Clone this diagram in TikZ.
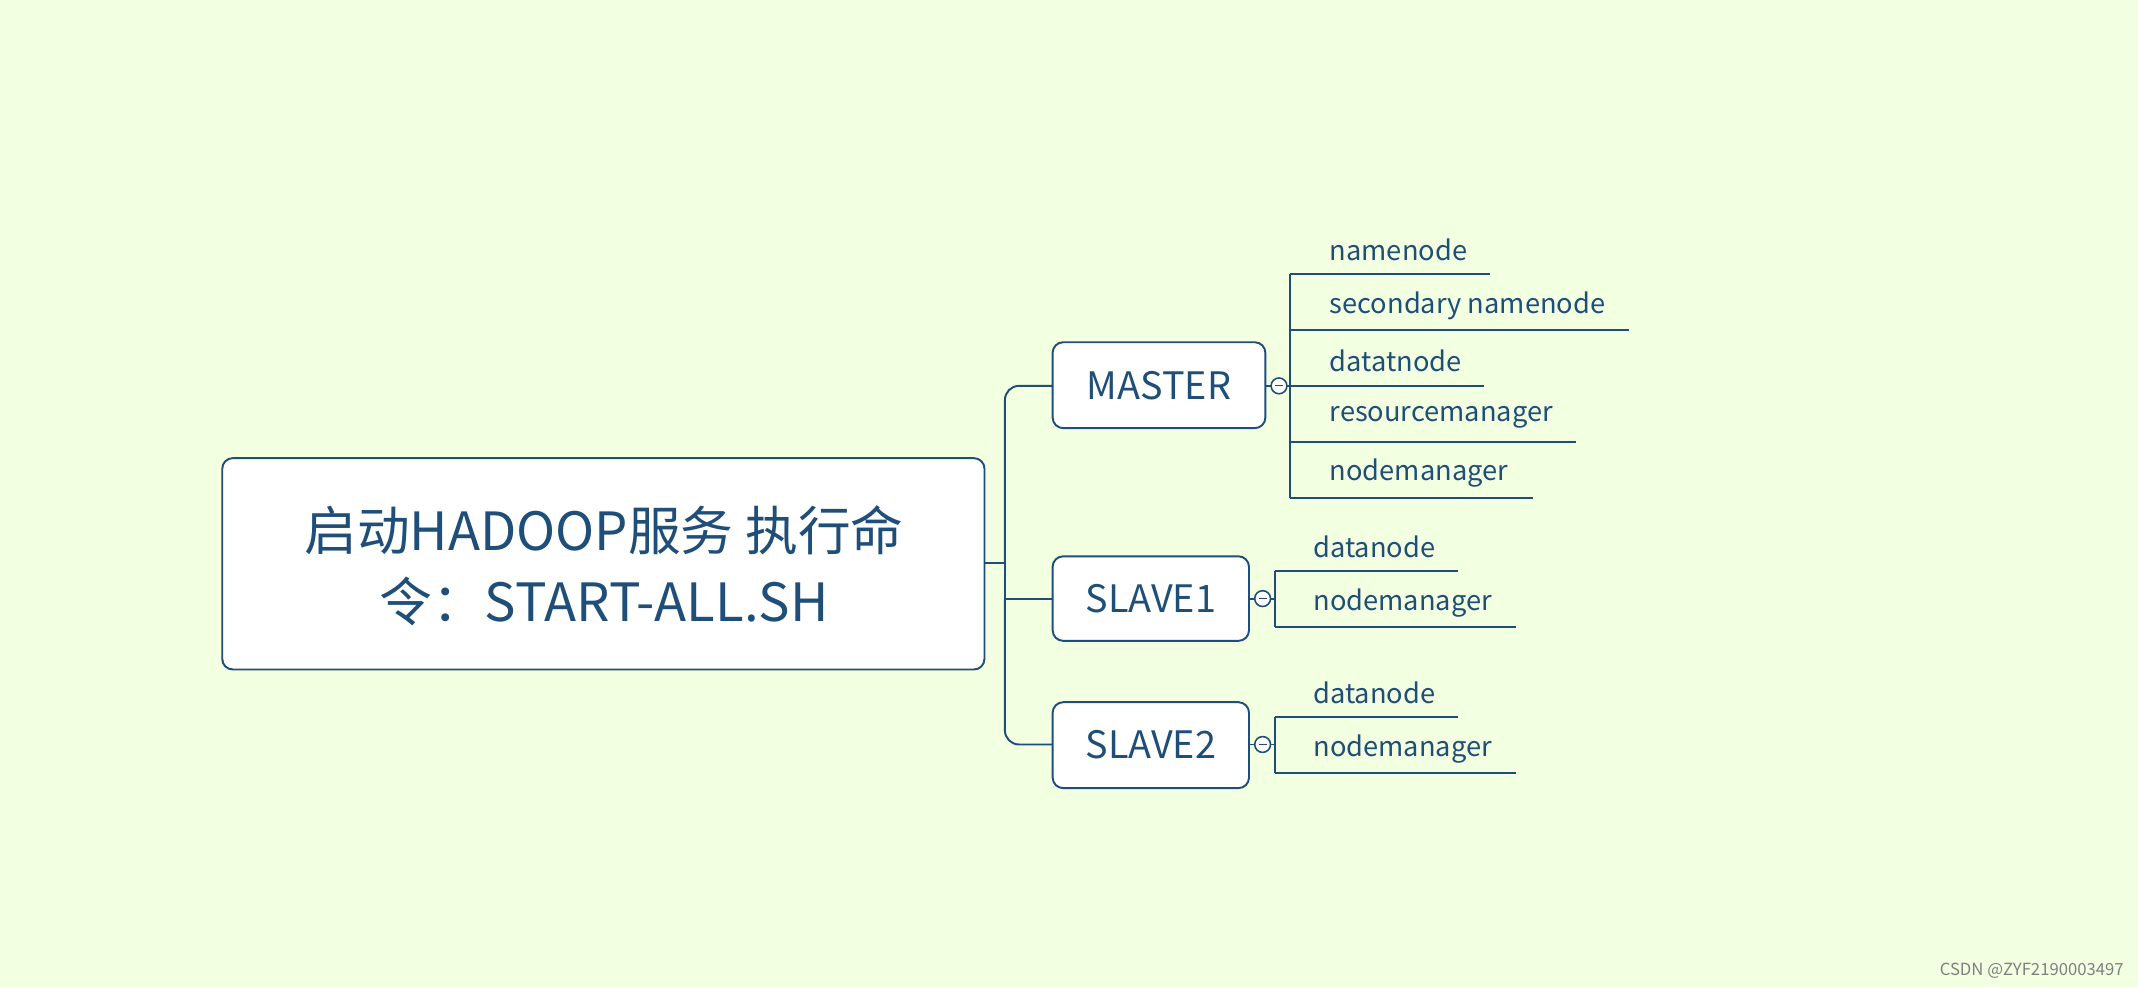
\documentclass[tikz,border=0pt]{standalone}
\usepackage{fontspec}
\setmainfont{Noto Sans CJK SC}
\definecolor{bg}{HTML}{F2FFE0}
\definecolor{ink}{HTML}{1F4E79}
\begin{document}
\begin{tikzpicture}[x=0.02727cm,y=-0.02727cm,
  line/.style={draw=ink,line width=1.1pt},
  box/.style={draw=ink,line width=1.1pt,fill=white,rounded corners=6pt},
  leaf/.style={text=ink,font=\fontsize{15.5}{18}\selectfont,anchor=west,inner sep=0pt},
  tog/.style={circle,draw=ink,line width=0.9pt,fill=white,minimum size=9pt,inner sep=0pt}]
\fill[bg] (0,0) rectangle (1568,724);
\useasboundingbox (0,0) rectangle (1568,724);
% root
\draw[box] (163,336) rectangle (722,491);
\node[text=ink,font=\fontsize{30}{40}\selectfont,align=center] (root) at (443,415) {启动HADOOP服务 执行命\\令：START-ALL.SH};
% second level
\draw[box] (772,251) rectangle (928,314);
\node[text=ink,font=\fontsize{21.5}{24}\selectfont] (m) at (850,283) {MASTER};
\draw[box] (772,408) rectangle (916,470);
\node[text=ink,font=\fontsize{21.5}{24}\selectfont] (s1) at (844,439) {SLAVE1};
\draw[box] (772,515) rectangle (916,578);
\node[text=ink,font=\fontsize{21.5}{24}\selectfont] (s2) at (844,546) {SLAVE2};
\coordinate (r) at (722,413);
\coordinate (j) at (737,413);
\draw[line] (r) -- (j);
\draw[line,rounded corners=8pt] (737,413) -- (737,283) -- (772,283);
\draw[line] (737,413) -- (737,439) -- (772,439);
\draw[line,rounded corners=8pt] (737,439) -- (737,546) -- (772,546);
% master children
\draw[line] (928,283) -- (946,283);
\draw[line] (946,201) -- (946,365);
\foreach \y/\e/\t in {201/1093/namenode,242/1195/secondary namenode,283/1088/datatnode,324/1156/resourcemanager,365/1124/nodemanager}{
  \draw[line] (946,\y) -- (\e,\y);
  \node[leaf] at (975,\y-18) {\t};
}
\node[tog] (tm) at (938,283) {};
\draw[ink,line width=0.7pt] (935,283) -- (941,283);
% slave children
\foreach \c/\cy in {s1/439,s2/546}{
  \draw[line] (916,\cy) -- (935,\cy);
  \draw[line] (935,\cy-20) -- (935,\cy+21);
  \draw[line] (935,\cy-20) -- (1069,\cy-20);
  \draw[line] (935,\cy+21) -- (1112,\cy+21);
  \node[leaf] at (963,\cy-38) {datanode};
  \node[leaf] at (963,\cy+3) {nodemanager};
  \node[tog] at (926,\cy) {};
  \draw[ink,line width=0.7pt] (923,\cy) -- (929,\cy);
}
\node[text=gray,font=\fontsize{9.5}{11}\selectfont,anchor=east] (wm) at (1562,712) {CSDN @ZYF2190003497};
\end{tikzpicture}
\end{document}
